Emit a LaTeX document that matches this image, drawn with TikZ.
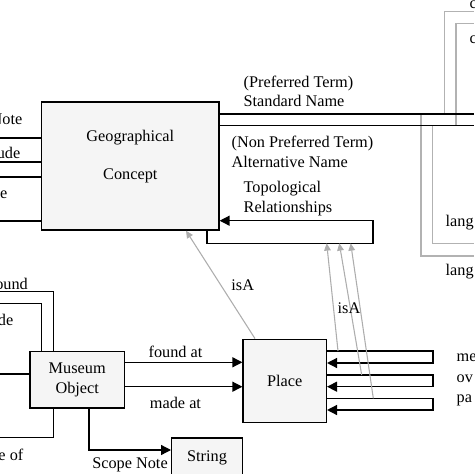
\documentclass[tikz,border=0pt]{standalone}
\usepackage{fontspec}
\setmainfont{Liberation Serif}
\usetikzlibrary{arrows.meta}
\begin{document}
\begin{tikzpicture}[x=0.75pt,y=-0.75pt,
    font=\fontsize{12.2}{14.6}\selectfont,
    line width=1pt,
    entity/.style={draw, line width=1pt, fill=black!4, inner sep=0pt, align=center},
    lbl/.style={inner sep=0pt, align=left},
    rel/.style={-{Triangle[length=7.5pt,width=7.5pt]}},
    isa/.style={draw=black!32, line width=0.8pt, -{Triangle[length=5.5pt,width=5pt]}},
    lang/.style={draw=black!30, line width=0.8pt}]
  \useasboundingbox (0,0) rectangle (474,474);
  \clip (0,0) rectangle (474,474);
  % entities
  \node[entity, minimum width=133pt, minimum height=96pt] (gc) at (130.3,166) {};
  \node[align=center] (gctext) at (130.3,157) {Geographical\\[14pt]Concept};
  \node[entity, minimum width=70.7pt, minimum height=42.5pt] (mo) at (77.2,379.7) {Museum\\Object};
  \node[entity, minimum width=62.5pt, minimum height=62.3pt] (place) at (284.7,380.8) {Place};
  \node[entity, minimum width=53pt, minimum height=30pt] (str) at (207,458) {String};
  % free ends
  \coordinate (e1) at (474,114);
  \coordinate (e2) at (474,125.7);
  \coordinate (c1) at (474,11.7);
  \coordinate (c2) at (474,23.3);
  \coordinate (g1) at (474,256);
  \coordinate (g2) at (474,243.3);
  % gray language lines
  \draw[lang] (e1 -| 444.3,0) |- (c1);
  \draw[lang] (e2 -| 456,0) |- (c2);
  \draw[lang] (e1 -| 421,0) |- (g1);
  \draw[lang] (e2 -| 432.7,0) |- (g2);
  \node[lbl, anchor=west] (c1l) at (469,5) {c};
  \node[lbl, anchor=west] (c2l) at (469,40) {c};
  \node[lbl, anchor=west] (g2l) at (445,223) {lang};
  \node[lbl, anchor=west] (g1l) at (445,271.7) {lang};
  % names
  \draw (e1 -| gc.east) -- (e1);
  \draw (e2 -| gc.east) -- (e2);
  \node[lbl, anchor=west] (pref) at (243,91.4) {(Preferred Term)\\Standard Name};
  \node[lbl, anchor=west] (nonpref) at (231,151.7) {(Non Preferred Term)\\Alternative Name};
  % topological relationships
  \draw[rel] (gc.south -| 207,0) -- (207,243.3) -| (373,220.7) -- (gc.east |- 0,220.7);
  \node[lbl, anchor=west] (topo) at (243,198.5) {Topological\\Relationships};
  % left of concept
  \foreach \y in {138,162,177,221} {
    \coordinate (w\y) at (0,\y);
    \draw (w\y) -- (w\y -| gc.west);
  }
  \node[lbl, anchor=east] (note) at (23,119) {Note};
  \node[lbl, anchor=east] (ude) at (21,153) {ude};
  \node[lbl, anchor=east] (ee) at (8,195) {e};
  % place relationships
  \foreach \t/\b in {351/363, 375/386.7, 398.3/410}
    \draw[rel] (place.east |- 0,\t) -- (433,\t) -- (433,\b) -- (place.east |- 0,\b);
  \node[lbl, anchor=west] (me) at (456,358) {me};
  \node[lbl, anchor=west] (ov) at (456,379) {ov};
  \node[lbl, anchor=west] (pa) at (456,400) {pa};
  % isA
  \draw[isa] (place.north -| 255,0) -- (gc.south -| 186,0);
  \draw[isa] (338,351) -- (326.7,243.3);
  \draw[isa] (361.7,375) -- (339.3,243.3);
  \draw[isa] (373.3,398.3) -- (350.7,243.3);
  \node (isa1) at (242.7,285) {isA};
  \node (isa2) at (349,308) {isA};
  % museum object
  \draw[rel] (mo.east |- 0,362.3) -- node[above, pos=0.43] {found at} (place.west |- 0,362.3);
  \draw[rel] (mo.east |- 0,386.7) -- node[below=4pt, pos=0.43] {made at} (place.west |- 0,386.7);
  \coordinate (f1) at (0,291.7);
  \coordinate (f2) at (0,303.3);
  \coordinate (f3) at (0,374);
  \coordinate (f4) at (0,437.3);
  \draw (mo.north -| 53.3,0) |- (f1);
  \draw (mo.north -| 41.7,0) |- (f2);
  \draw (mo.west |- f3) -- (f3);
  \draw (mo.south -| 53.3,0) |- (f4);
  \node[lbl, anchor=east] (ound) at (28.5,284) {ound};
  \node[lbl, anchor=east] (de) at (14,320) {de};
  \node[lbl, anchor=east] (eof) at (24,454.7) {e of};
  \draw[rel] (mo.south -| 89,0) |- node[below=2pt, pos=0.75] {Scope Note} (str.west |- 0,450);
\end{tikzpicture}
\end{document}
